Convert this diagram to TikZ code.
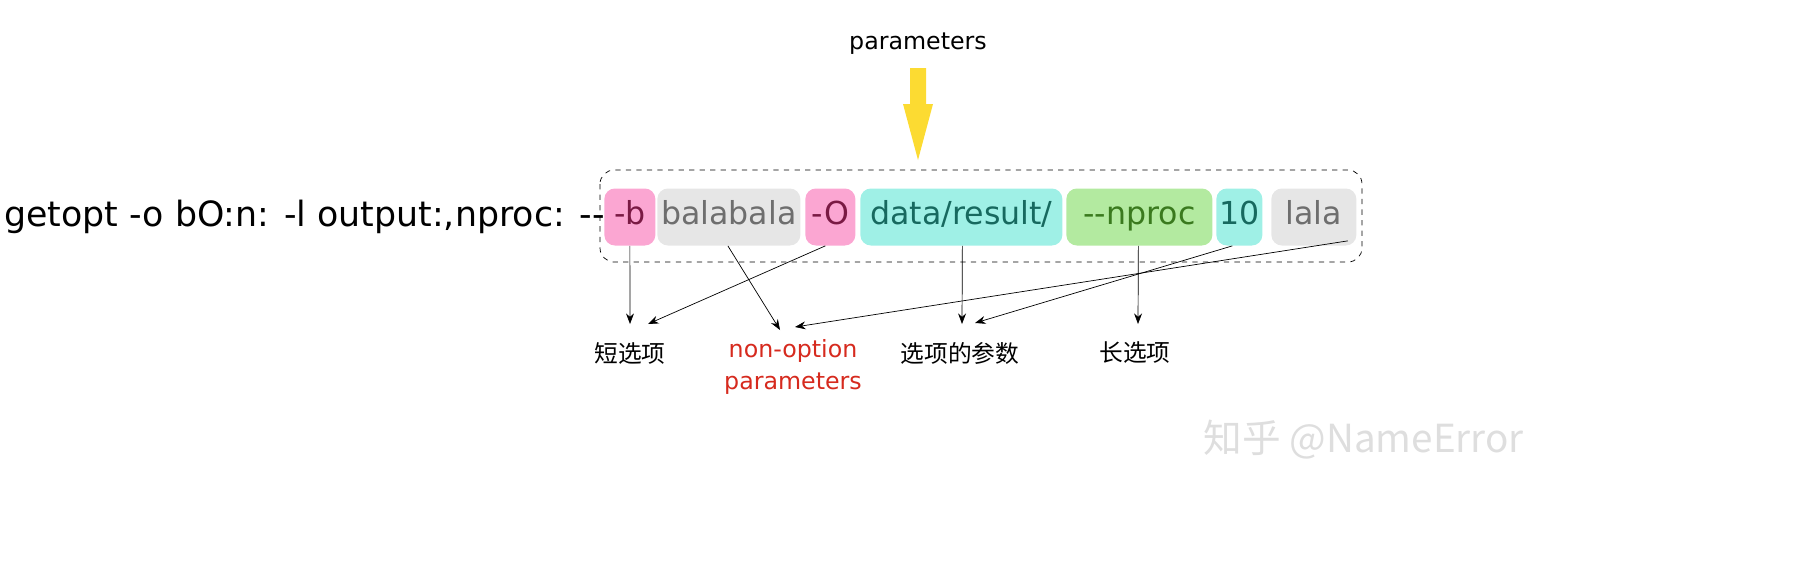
\documentclass[tikz,border=0pt]{standalone}
\usepackage{fontspec}
\setmainfont{DejaVu Sans}
\newfontfamily\cjk{Noto Sans CJK SC}
\usetikzlibrary{arrows.meta}
\definecolor{pinkf}{HTML}{FBA6D2}
\definecolor{pinkt}{HTML}{7A1A44}
\definecolor{grayf}{HTML}{E6E6E6}
\definecolor{grayt}{HTML}{6E6E6E}
\definecolor{cyanf}{HTML}{9FF0E6}
\definecolor{cyant}{HTML}{17695F}
\definecolor{greenf}{HTML}{B3EAA0}
\definecolor{greent}{HTML}{3A7A1E}
\definecolor{yel}{HTML}{FCDB32}
\definecolor{redt}{HTML}{D62A1E}
\begin{document}
\begin{tikzpicture}[x=0.02cm,y=-0.02cm,
  tok/.style={rounded corners=6pt,inner sep=0pt,minimum height=57*0.02cm,text height=13pt,text depth=4pt,anchor=west,font=\fontsize{18}{21}\selectfont},
  lab/.style={font=\cjk\fontsize{13.5}{16}\selectfont},
  arr/.style={-{Stealth[length=6pt,width=4.5pt]},thin}]
\useasboundingbox (0,0) rectangle (1814,582);
\node[anchor=west,font=\fontsize{19.8}{22}\selectfont,inner sep=0pt] (cmd) at (4,217) {getopt -o bO:n: -l output:,nproc: -{}-};
\draw[dashed,rounded corners=8pt] (600,170) rectangle (1362,262);
\node[tok,fill=pinkf,text=pinkt,minimum width=51*0.02cm] (b) at (604,217) {-b};
\node[tok,fill=grayf,text=grayt,minimum width=143*0.02cm] (bal) at (657,217) {balabala};
\node[tok,fill=pinkf,text=pinkt,minimum width=50*0.02cm] (O) at (805,217) {-O};
\node[tok,fill=cyanf,text=cyant,minimum width=202*0.02cm] (data) at (860,217) {data/result/};
\node[tok,fill=greenf,text=greent,minimum width=146*0.02cm] (np) at (1066,217) {-{}-nproc};
\node[tok,fill=cyanf,text=cyant,minimum width=46*0.02cm] (ten) at (1216,217) {10};
\node[tok,fill=grayf,text=grayt,minimum width=85*0.02cm] (lala) at (1271,217) {lala};
% parameters arrow
\node[font=\fontsize{13.5}{16}\selectfont] (par) at (918,44) {parameters};
\fill[yel] (910,68) -- (926,68) -- (926,104) -- (933,104) -- (918,160) -- (903,104) -- (910,104) -- cycle;
% labels
\node[lab] (l1) at (630,353) {短选项};
\node[font=\fontsize{13.5}{16}\selectfont,text=redt,align=center,inner sep=0pt] (l2) at (793,367) {non-option\\[2pt]parameters};
\node[lab] (l3) at (960,353) {选项的参数};
\node[lab] (l4) at (1135,353) {长选项};
\coordinate (t1a) at (630,324);
\coordinate (t1b) at (648,324);
\coordinate (t2a) at (780,330);
\coordinate (t2b) at (795,327);
\coordinate (t3a) at (962,324);
\coordinate (t3b) at (975,323);
\coordinate (t4) at (1138,324);
\draw[arr] (b.south) -- (t1a);
\draw[arr] (O.south) ++(-5,0) -- (t1b);
\draw[arr] (bal.south) ++(-1,0) -- (t2a);
\draw[arr] (lala.south) ++(34,-5) -- (t2b);
\draw[arr] (data.south) ++(1,0) -- (t3a);
\draw[arr] (ten.south) ++(-7,0) -- (t3b);
\draw[arr] (np.south) ++(-1,0) -- (t4);
\node[font=\cjk\fontsize{22}{26}\selectfont,text=black!13,anchor=east] (wm) at (1530,440) {知乎 @NameError};
\end{tikzpicture}
\end{document}
